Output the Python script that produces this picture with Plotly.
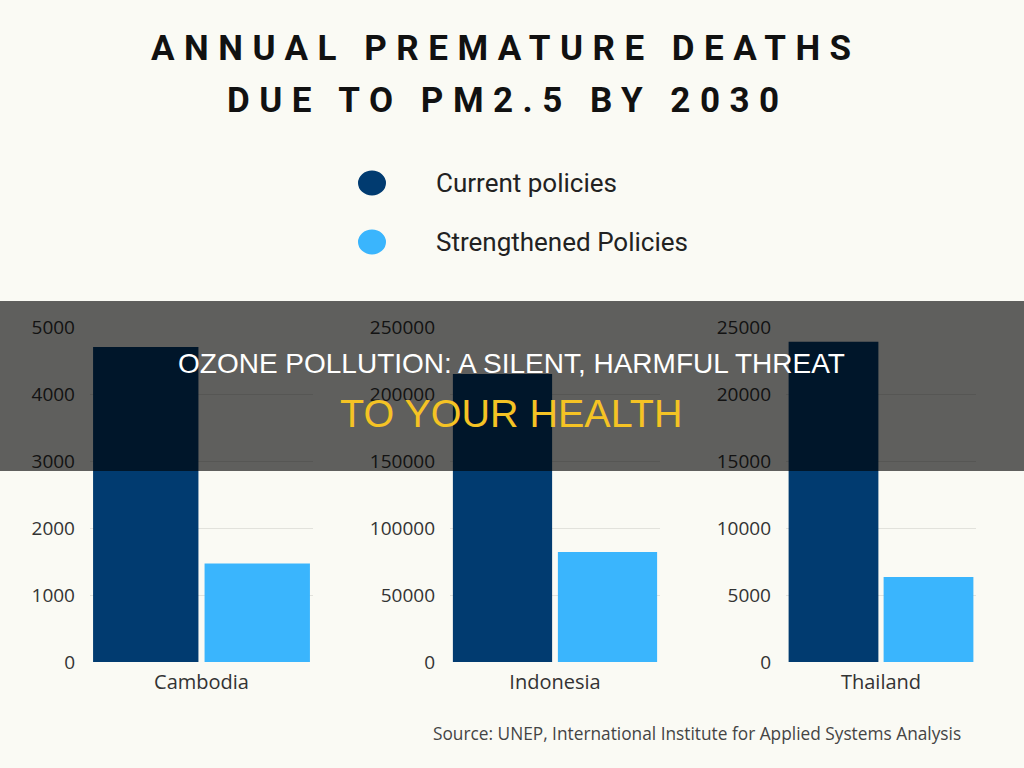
import plotly.graph_objects as go

# ---- data ----
countries = ["Cambodia", "Indonesia", "Thailand"]
series_names = ["Current policies", "Strengthened Policies"]
current_policies = [4700, 215000, 23900]
strengthened_policies = [1470, 82000, 6350]
y_max = [5000, 250000, 25000]
y_dtick = [1000, 50000, 5000]

# ---- style ----
W, H = 1024, 768
BG = "#fafaf4"
DARK = "#013b70"
LIGHT = "#3ab5fd"
TXT = "#333333"


def px(x):
    return x / W


def py(y):
    return 1 - y / H


x_domains = [(90, 313), (450, 660), (786, 976)]
y_domain = [py(662), py(327)]

fig = go.Figure()
for i, c in enumerate(countries):
    xa = "x" if i == 0 else f"x{i+1}"
    ya = "y" if i == 0 else f"y{i+1}"
    fig.add_bar(x=[c], y=[current_policies[i]], name=series_names[0],
                marker=dict(color=DARK, line=dict(width=0)),
                xaxis=xa, yaxis=ya, showlegend=False)
    fig.add_bar(x=[c], y=[strengthened_policies[i]], name=series_names[1],
                marker=dict(color=LIGHT, line=dict(width=0)),
                xaxis=xa, yaxis=ya, showlegend=False)

layout = dict(
    width=W, height=H, autosize=False,
    margin=dict(l=0, r=0, t=0, b=0, pad=0, autoexpand=False),
    paper_bgcolor=BG, plot_bgcolor=BG,
    barmode="group", bargap=0, bargroupgap=0.055,
    showlegend=False,
    font=dict(family="Open Sans, Noto Sans, sans-serif", color=TXT),
)
for i in range(3):
    sx = "" if i == 0 else str(i + 1)
    layout[f"xaxis{sx}"] = dict(
        domain=[px(x_domains[i][0]), px(x_domains[i][1])],
        anchor=f"y{sx}", type="category", showgrid=False, showline=False,
        ticks="", zeroline=False, tickfont=dict(size=20, color=TXT),
        ticklabelstandoff=6, fixedrange=True, automargin=False,
    )
    layout[f"yaxis{sx}"] = dict(
        domain=y_domain, anchor=f"x{sx}", range=[0, y_max[i]],
        dtick=y_dtick[i], tickformat="d", showgrid=True,
        gridcolor="#e2e2dc", gridwidth=1, zeroline=False, showline=False,
        ticks="", ticklabelstandoff=14, tickfont=dict(size=19, color=TXT),
        fixedrange=True, automargin=False,
    )
fig.update_layout(**layout)

shapes = []
annotations = []

# title
title_font = dict(family="Roboto, Liberation Sans, sans-serif",
                  size=35, color="#111111", weight="bold")
annotations.append(dict(
    x=px(506), y=py(48), xref="paper", yref="paper", showarrow=False,
    text="<span style='letter-spacing:9.5px'>ANNUAL PREMATURE DEATHS</span>",
    font=title_font, xanchor="center", yanchor="middle"))
annotations.append(dict(
    x=px(508), y=py(100), xref="paper", yref="paper", showarrow=False,
    text="<span style='letter-spacing:9.5px'>DUE TO PM2.5 BY 2030</span>",
    font=title_font, xanchor="center", yanchor="middle"))

# legend
legend_y = [183, 242]
legend_colors = [DARK, LIGHT]
for name, col, ly in zip(series_names, legend_colors, legend_y):
    shapes.append(dict(type="circle", xref="paper", yref="paper",
                       x0=px(358), x1=px(386), y0=py(ly + 12.5), y1=py(ly - 12.5),
                       fillcolor=col, line=dict(width=0)))
    annotations.append(dict(x=px(434), y=py(ly), xref="paper", yref="paper",
                            showarrow=False, text=name, xanchor="left", yanchor="middle",
                            font=dict(family="Roboto, sans-serif", size=26, color="#222222")))

# source
annotations.append(dict(x=px(431), y=py(733), xref="paper", yref="paper", showarrow=False,
                        text="Source: UNEP, International Institute for Applied Systems Analysis",
                        xanchor="left", yanchor="middle",
                        font=dict(family="Open Sans, sans-serif", size=17.3, color="#444444")))

# overlay banner
shapes.append(dict(type="rect", xref="paper", yref="paper", x0=0, x1=1,
                   y0=py(471), y1=py(301), fillcolor="black", opacity=0.62,
                   line=dict(width=0), layer="above"))
annotations.append(dict(x=px(511), y=py(364), xref="paper", yref="paper", showarrow=False,
                        text="OZONE POLLUTION: A SILENT, HARMFUL THREAT",
                        xanchor="center", yanchor="middle",
                        font=dict(family="Liberation Sans, Arial, sans-serif", size=28, color="white")))
annotations.append(dict(x=px(511), y=py(413), xref="paper", yref="paper", showarrow=False,
                        text="TO YOUR HEALTH",
                        xanchor="center", yanchor="middle",
                        font=dict(family="Liberation Sans, Arial, sans-serif", size=39.5, color="#f5c324")))

fig.update_layout(shapes=shapes, annotations=annotations)
fig.write_html("out.html")
